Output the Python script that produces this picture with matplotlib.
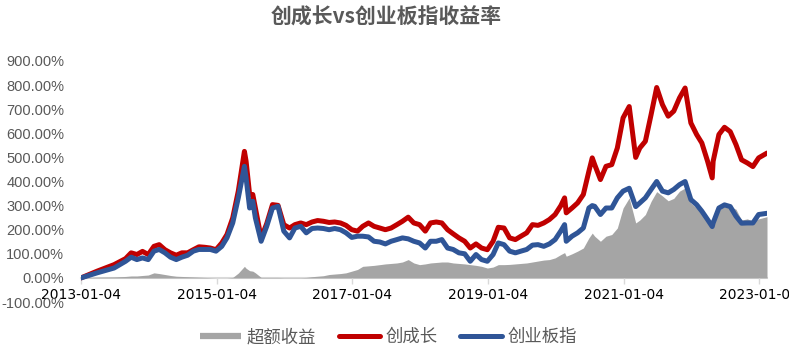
import matplotlib
matplotlib.use("Agg")
import matplotlib.pyplot as plt
import matplotlib.dates as mdates
from matplotlib.lines import Line2D
import pandas as pd

dates = [
    "2013-01-04", "2013-04-01", "2013-07-01", "2013-09-01", "2013-10-01", "2013-11-01", "2013-12-01",
    "2014-01-01", "2014-02-01", "2014-03-01", "2014-04-01", "2014-05-01", "2014-06-01", "2014-07-01",
    "2014-08-01", "2014-09-01", "2014-10-01", "2014-11-01", "2014-12-01",
    "2015-01-01", "2015-02-01", "2015-03-01", "2015-04-01", "2015-05-01", "2015-06-03", "2015-06-12",
    "2015-07-01", "2015-07-18", "2015-08-01", "2015-09-01", "2015-10-01", "2015-11-01", "2015-12-01",
    "2016-01-01", "2016-02-01", "2016-03-01", "2016-04-01", "2016-05-01", "2016-06-01", "2016-07-01",
    "2016-08-01", "2016-09-01", "2016-10-01", "2016-11-01", "2016-12-01",
    "2017-01-01", "2017-02-01", "2017-03-01", "2017-04-01", "2017-05-01", "2017-06-01", "2017-07-01",
    "2017-08-01", "2017-09-01", "2017-10-01", "2017-11-01", "2017-12-01",
    "2018-01-01", "2018-02-01", "2018-03-01", "2018-04-01", "2018-05-01", "2018-06-01", "2018-07-01",
    "2018-08-01", "2018-09-01", "2018-10-01", "2018-11-01", "2018-12-01",
    "2019-01-01", "2019-02-01", "2019-03-01", "2019-04-01", "2019-05-01", "2019-06-01", "2019-07-01",
    "2019-08-01", "2019-09-01", "2019-10-01", "2019-11-01", "2019-12-01",
    "2020-01-01", "2020-02-01", "2020-02-21", "2020-03-01", "2020-04-01", "2020-05-01", "2020-06-01",
    "2020-07-01", "2020-07-19", "2020-08-01", "2020-09-01", "2020-10-01", "2020-11-01", "2020-12-01",
    "2021-01-01", "2021-02-03", "2021-03-10", "2021-04-01", "2021-05-01", "2021-06-01", "2021-07-01",
    "2021-08-01", "2021-09-01", "2021-10-01", "2021-11-01", "2021-12-01",
    "2022-01-01", "2022-02-01", "2022-03-01", "2022-04-01", "2022-04-26", "2022-05-01", "2022-06-01",
    "2022-07-01", "2022-08-01", "2022-09-01", "2022-10-01", "2022-11-01", "2022-12-01",
    "2023-01-01", "2023-02-15",
]

# 创成长 (%)
cyc = [
    0, 28, 55, 80, 104, 97, 110,
    97, 131, 138, 117, 104, 94, 104,
    104, 117, 129, 127, 124,
    117, 145, 180, 249, 360, 525, 484,
    346, 346, 290, 166, 225, 304, 301,
    221, 207, 221, 228, 221, 232, 238,
    235, 230, 232, 228, 218,
    200, 194, 214, 228, 214, 207, 200,
    207, 221, 235, 252, 228,
    221, 194, 228, 232, 228, 200, 183,
    166, 152, 124, 141, 124,
    117, 152, 210, 207, 166, 159, 173,
    187, 221, 218, 228, 242,
    263, 300, 332, 270, 290, 311, 346,
    443, 498, 470, 408, 463, 470, 539,
    664, 711, 500, 539, 567, 678, 790,
    719, 671, 692, 747, 788,
    643, 595, 560, 484, 415, 484, 595,
    625, 607, 553, 490, 477, 462,
    498, 518,
]

# 创业板指 (%)
cyb = [
    0, 21, 41, 69, 86, 76, 83,
    76, 111, 118, 104, 86, 76, 86,
    94, 111, 118, 118, 118,
    111, 131, 166, 228, 332, 463, 415,
    290, 318, 249, 152, 214, 290, 297,
    194, 166, 207, 214, 187, 205, 207,
    205, 200, 205, 200, 187,
    168, 173, 173, 170, 152, 149, 141,
    152, 159, 166, 162, 152,
    145, 124, 152, 152, 159, 124, 118,
    104, 100, 69, 97, 76,
    69, 97, 145, 138, 111, 104, 111,
    118, 136, 138, 131, 141,
    159, 195, 221, 152, 173, 187, 207,
    290, 300, 297, 263, 290, 290, 332,
    360, 372, 296, 311, 332, 367, 400,
    360, 353, 367, 387, 400,
    325, 304, 277, 242, 213, 228, 290,
    303, 296, 256, 227, 228, 228,
    263, 268,
]

# 超额收益 (%)
excess = [
    0, 3, 4, 6, 8, 8, 10,
    12, 21, 18, 14, 10, 7, 6,
    5, 4, 3, 2, 1,
    0, 0, 0, 2, 20, 48, 40,
    30, 28, 21, 2, 2, 2, 2,
    1, 1, 1, 1, 2, 5, 7,
    9, 14, 16, 18, 21,
    28, 35, 48, 50, 52, 55, 58,
    60, 62, 66, 76, 62,
    55, 58, 62, 64, 66, 66, 62,
    60, 58, 55, 52, 48,
    41, 45, 55, 55, 56, 58, 60,
    62, 66, 70, 74, 76,
    83, 97, 105, 90, 100, 111, 124,
    166, 186, 173, 152, 173, 180, 207,
    290, 332, 228, 240, 263, 318, 358,
    340, 320, 330, 360, 373,
    311, 290, 280, 240, 210, 230, 290,
    300, 295, 285, 240, 245, 235,
    245, 254,
]

x_ticks = ["2013-01-04", "2015-01-04", "2017-01-04", "2019-01-04", "2021-01-04", "2023-01-04"]
y_ticks = [-100, 0, 100, 200, 300, 400, 500, 600, 700, 800, 900]

CJK = ["Noto Sans CJK SC", "DejaVu Sans"]
NUM = ["Liberation Sans", "DejaVu Sans"]
TXT = "#595959"

d = pd.to_datetime(dates)

fig = plt.figure(figsize=(7.89, 3.53), dpi=100)
ax = fig.add_axes([81 / 789, 51 / 353, (767 - 81) / 789, 241 / 353])

ax.fill_between(d, 0, excess, color="#A5A5A5", linewidth=0, zorder=1)
ax.plot(d, cyc, color="#C00000", lw=3.6, solid_capstyle="round", solid_joinstyle="round", zorder=2)
ax.plot(d, cyb, color="#2F5597", lw=3.6, solid_capstyle="round", solid_joinstyle="round", zorder=3)

ax.set_xlim(pd.Timestamp("2013-01-04"), pd.Timestamp("2023-02-15"))
ax.set_ylim(-100, 900)

ax.set_yticks(y_ticks)
ax.set_yticklabels([f"{v:.2f}%" for v in y_ticks], fontfamily=NUM, fontsize=10.5, color=TXT)
ax.tick_params(axis="y", length=0, pad=12)

xt = pd.to_datetime(x_ticks)
ax.set_xticks(xt)
ax.set_xticklabels(x_ticks, fontfamily=NUM, fontsize=13, color=TXT)
ax.tick_params(axis="x", length=4, width=1, color="#D9D9D9", pad=3)

for s in ["top", "right", "left"]:
    ax.spines[s].set_visible(False)
ax.spines["bottom"].set_position(("data", 0))
ax.spines["bottom"].set_color("#D9D9D9")
ax.spines["bottom"].set_linewidth(1.5)
ax.spines["bottom"].set_zorder(0.5)

fig.text(0.489, 0.952, "创成长vs创业板指收益率", ha="center", va="center",
         fontfamily=CJK, fontsize=15, fontweight="bold", color=TXT)

handles = [
    Line2D([0], [0], color="#A5A5A5", lw=4.5, solid_capstyle="butt"),
    Line2D([0], [0], color="#C00000", lw=3.6, solid_capstyle="round"),
    Line2D([0], [0], color="#2F5597", lw=3.6, solid_capstyle="round"),
]
leg = fig.legend(handles, ["超额收益", "创成长", "创业板指"], loc="center",
                 bbox_to_anchor=(0.492, 0.045), ncol=3, frameon=False,
                 prop={"family": CJK, "size": 12.5}, handlelength=2.4,
                 handletextpad=0.3, columnspacing=1.3)
for t in leg.get_texts():
    t.set_color(TXT)

fig.savefig("out.png", dpi=100)
